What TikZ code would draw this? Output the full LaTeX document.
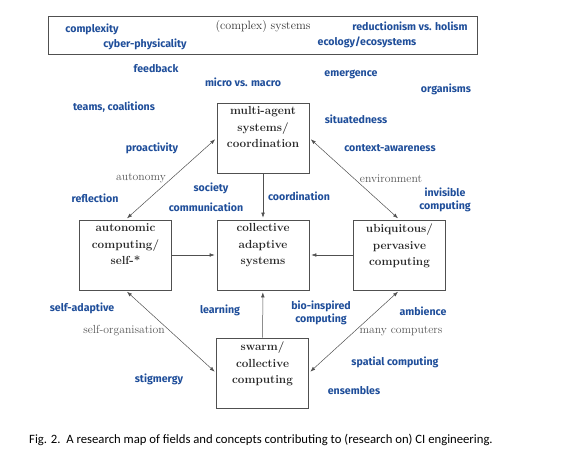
\documentclass[tikz,border=0pt]{standalone}
\usepackage{fontspec}
\newfontfamily\bluefont{Fira Sans}
\newfontfamily\capfont{Carlito}
\usetikzlibrary{arrows.meta}
\definecolor{kwblue}{HTML}{1F4E9A}
\definecolor{linegray}{HTML}{505050}
\definecolor{labgray}{HTML}{555555}
\tikzset{
  box/.style={draw=linegray, line width=0.7pt, minimum width=92pt, minimum height=70pt, inner sep=0pt},
  boxtext/.style={anchor=north, align=center, inner sep=0pt, text=black!85, font=\fontsize{11.7}{16.5}\selectfont\bfseries},
  kw/.style={text=kwblue, align=center, inner sep=0pt, font=\fontsize{10.6}{13}\selectfont\bluefont\bfseries},
  lab/.style={text=labgray, inner sep=0pt, font=\fontsize{11.7}{14}\selectfont},
  conn/.style={draw=linegray, line width=0.5pt, -{Latex[length=5pt,width=3.6pt]}, shorten >=2pt},
  dconn/.style={draw=linegray, line width=0.5pt, {Latex[length=5pt,width=3.6pt]}-{Latex[length=5pt,width=3.6pt]}, shorten >=2pt, shorten <=2pt},
}
\begin{document}
\begin{tikzpicture}[x=1pt,y=-1pt]
\useasboundingbox (0,0) rectangle (580,470);
% top frame
\node[draw=linegray, line width=0.7pt, minimum width=429pt, minimum height=38pt, inner sep=0pt] (sys) at (262.5,35) {};
\node[lab, text=black!80, font=\fontsize{12}{14}\selectfont] (systxt) at (263,27) {(complex) systems};
\node[kw] (k1) at (92,29) {complexity};
\node[kw] (k2) at (145,44) {cyber-physicality};
\node[kw] (k3) at (410,26) {reductionism vs. holism};
\node[kw] (k4) at (367,42) {ecology/ecosystems};
% boxes
\node[box] (mas) at (263,138) {};
\node[boxtext] (mast) at ([yshift=-4pt]mas.north) {multi-agent\\systems/\\coordination};
\node[box] (aut) at (125.5,255) {};
\node[boxtext] (autt) at ([yshift=-4pt]aut.north) {autonomic\\computing/\\self-*};
\node[box] (cas) at (263,255) {};
\node[boxtext] (cast) at ([yshift=-4pt]cas.north) {collective\\adaptive\\systems};
\node[box] (ubi) at (399.5,255) {};
\node[boxtext] (ubit) at ([yshift=-4pt]ubi.north) {ubiquitous/\\pervasive\\computing};
\node[box] (swa) at (262.5,373) {};
\node[boxtext] (swat) at ([yshift=-4pt]swa.north) {swarm/\\collective\\computing};
% connectors
\draw[conn] (mas) -- (cas);
\draw[conn] (aut) -- (cas);
\draw[conn] (ubi) -- (cas);
\draw[conn] (swa) -- (cas);
\draw[dconn] (aut.north) -- (mas.west);
\draw[dconn] (ubi.north) -- (mas.east);
\draw[dconn] (aut.south) -- (swa.west);
\draw[dconn] (ubi.south) -- (swa.east);
% gray labels
\node[lab] (l1) at (141,178) {autonomy};
\node[lab] (l2) at (391,179) {environment};
\node[lab] (l3) at (124,331) {self-organisation};
\node[lab] (l4) at (401,331) {many computers};
% blue keywords
\node[kw] (b1) at (156,69) {feedback};
\node[kw] (b2) at (243,82) {micro vs. macro};
\node[kw] (b3) at (351,74) {emergence};
\node[kw] (b4) at (446,89) {organisms};
\node[kw] (b5) at (114,107) {teams, coalitions};
\node[kw] (b6) at (356,119) {situatedness};
\node[kw] (b7) at (152,148) {proactivity};
\node[kw] (b8) at (390,148) {context-awareness};
\node[kw] (b9) at (95,198) {reflection};
\node[kw] (b10) at (211,188) {society};
\node[kw] (b11) at (206,207) {communication};
\node[kw] (b12) at (299,196) {coordination};
\node[kw] (b13) at (445,199.5) {invisible\\computing};
\node[kw] (b14) at (82,308) {self-adaptive};
\node[kw] (b15) at (220,310) {learning};
\node[kw] (b16) at (321,312.5) {bio-inspired\\computing};
\node[kw] (b17) at (423,311) {ambience};
\node[kw] (b18) at (395,362) {spatial computing};
\node[kw] (b19) at (159,379) {stigmergy};
\node[kw] (b20) at (354,391) {ensembles};
% caption
\node[inner sep=0pt, font=\fontsize{12.7}{14}\selectfont\capfont] (cap) at (261,440) {Fig. 2.\ \ A research map of fields and concepts contributing to (research on) CI engineering.};
\end{tikzpicture}
\end{document}
